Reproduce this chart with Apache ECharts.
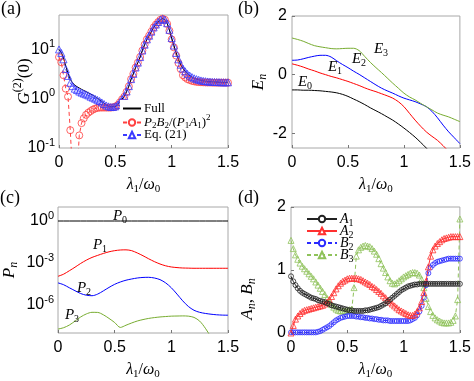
<!DOCTYPE html>
<html><head><meta charset="utf-8">
<script src="https://cdn.jsdelivr.net/npm/echarts@6/dist/echarts.min.js"></script>
<style>html,body{margin:0;padding:0;background:#fff}#c{width:474px;height:381px}</style>
</head><body><div id="c"></div>
<script>
// ---------- x grids ----------
const xs02 = [0,0.02,0.04,0.06,0.08,0.10,0.12,0.14,0.16,0.18,0.20,0.22,0.24,0.26,0.28,0.30,0.32,0.34,0.36,0.38,
  0.40,0.42,0.44,0.46,0.48,0.50,0.52,0.54,0.56,0.58,0.60,0.62,0.64,0.66,0.68,0.70,0.72,0.74,0.76,0.78,
  0.80,0.82,0.84,0.86,0.88,0.90,0.92,0.94,0.96,0.98,1.00,1.02,1.04,1.06,1.08,1.10,1.12,1.14,1.16,1.18,
  1.20,1.22,1.24,1.26,1.28,1.30,1.32,1.34,1.36,1.38,1.40,1.42,1.44,1.46,1.48,1.50];
const xs05 = [0,0.05,0.10,0.15,0.20,0.25,0.30,0.35,0.40,0.45,0.50,0.55,0.60,0.65,0.70,0.75,0.80,0.85,0.90,0.95,
  1.00,1.05,1.10,1.15,1.20,1.25,1.30,1.35,1.40,1.45,1.50];
const xTicks = [0, 0.5, 1, 1.5];

// ---------- panel (a): G2(0) ----------
const gFull = [10,8.7,6.8,4.6,3.3,2.5,2.1,1.9,1.75,1.65,1.55,1.47,1.4,1.32,1.25,1.18,1.1,1.03,0.95,0.88,
  0.81,0.75,0.71,0.69,0.69,0.7,0.75,0.85,0.98,1.12,1.4,1.8,2.5,3.2,4.3,5.4,7,9.5,12.5,16,
  19,23,28,32,36,40,42,40,34,25,17,12,8.5,6.3,4.9,4.1,3.6,3.2,2.95,2.75,
  2.6,2.5,2.42,2.35,2.3,2.27,2.24,2.22,2.2,2.19,2.18,2.17,2.16,2.16,2.15,2.15];
const gRatio = [7,5.5,3.0,1.6,1.1,0.23,0.03,0.008,0.03,0.18,0.32,0.4,0.47,0.52,0.56,0.6,0.63,0.65,0.66,0.66,
  0.66,0.66,0.66,0.66,0.67,0.69,0.74,0.84,0.97,1.1,1.38,1.78,2.5,3.2,4.3,5.4,7,9.5,12.5,16,
  19,23,28,32,36,40,42,40,33,24,16,11,7.5,5.3,4.0,3.0,2.7,2.5,2.4,2.3,
  2.25,2.2,2.18,2.16,2.15,2.14,2.13,2.13,2.12,2.12,2.12,2.12,2.12,2.12,2.12,2.12];
const gEq21 = [10,8.5,6.3,4.0,2.9,2.1,1.8,1.6,1.5,1.4,1.33,1.27,1.22,1.17,1.1,1.05,1.0,0.95,0.9,0.84,
  0.78,0.73,0.7,0.68,0.68,0.7,0.75,0.85,0.98,1.12,1.4,1.8,2.5,3.2,4.3,5.4,7,9.5,12.5,16,
  19,23,28,32,36,40,42,40,34,25,17,12,8.5,6.3,4.9,4.1,3.6,3.2,2.95,2.75,
  2.6,2.5,2.42,2.35,2.3,2.27,2.24,2.22,2.2,2.19,2.18,2.17,2.16,2.16,2.15,2.15];

// ---------- panel (b): E_n ----------
const E0 = [-0.52,-0.52,-0.53,-0.53,-0.54,-0.55,-0.57,-0.59,-0.62,-0.67,-0.74,-0.83,-0.92,-1.02,-1.13,-1.23,-1.33,-1.44,-1.55,-1.68,-1.82,-1.97,-2.13,-2.31,-2.5,-2.7,-2.9,-3.12,-3.35,-3.59,-3.84];
const E1 = [0.37,0.32,0.26,0.19,0.13,0.06,0.0,-0.06,-0.11,-0.17,-0.23,-0.3,-0.37,-0.45,-0.52,-0.58,-0.65,-0.72,-0.8,-0.92,-1.09,-1.32,-1.55,-1.76,-1.95,-2.1,-2.24,-2.42,-2.62,-2.85,-3.1];
const E2 = [0.49,0.5,0.54,0.59,0.63,0.66,0.66,0.6,0.47,0.35,0.24,0.12,0.01,-0.11,-0.23,-0.35,-0.46,-0.55,-0.63,-0.72,-0.8,-0.86,-0.92,-1.0,-1.09,-1.25,-1.47,-1.72,-1.95,-2.15,-2.35];
const E3 = [1.25,1.2,1.14,1.06,0.99,0.95,0.92,0.89,0.88,0.89,0.9,0.9,0.82,0.62,0.42,0.24,0.07,-0.11,-0.29,-0.46,-0.63,-0.76,-0.86,-0.98,-1.09,-1.2,-1.31,-1.38,-1.44,-1.52,-1.6];
const eTicks = [-2, 0, 2];

// ---------- panel (c): P_n ----------
const P0 = [0.999,0.999,0.999,0.999,0.999,0.999,0.999,0.999,0.999,0.999,0.999,0.999,0.999,0.999,0.999,0.999,0.999,0.999,0.999,0.999,0.999,0.999,0.999,0.999,0.999,0.999,0.999,0.999,0.999,0.999,0.999];
const P1 = [1.12e-4,1.6e-4,2.8e-4,5.0e-4,9.3e-4,1.6e-3,2.5e-3,3.5e-3,4.8e-3,6.3e-3,7.6e-3,8.5e-3,8.7e-3,7.6e-3,5.2e-3,3.3e-3,2.0e-3,1.26e-3,8.5e-4,6.3e-4,5.2e-4,4.7e-4,4.4e-4,4.3e-4,4.2e-4,4.2e-4,4.2e-4,4.2e-4,4.2e-4,4.2e-4,4.2e-4];
const P2 = [3.8e-5,2.8e-5,1.7e-5,1.05e-5,6.6e-6,5.0e-6,4.6e-6,6.0e-6,1.02e-5,1.8e-5,3.0e-5,4.4e-5,5.9e-5,7.2e-5,8.5e-5,9.3e-5,9.5e-5,8.5e-5,6.5e-5,3.8e-5,1.7e-5,6.0e-6,2.0e-6,7.9e-7,4.2e-7,3.0e-7,2.5e-7,2.2e-7,2.0e-7,1.9e-7,1.86e-7];
const P3 = [1.9e-8,2.4e-8,3.7e-8,7.1e-8,1.4e-7,2.3e-7,3.0e-7,2.95e-7,2.0e-7,1.1e-7,5.6e-8,2.5e-8,3.6e-8,5.2e-8,7.2e-8,9.1e-8,1.1e-7,1.26e-7,1.4e-7,1.5e-7,1.6e-7,1.63e-7,1.66e-7,1.6e-7,1.3e-7,7.1e-8,2.2e-8,5e-9,1e-9,2.5e-10,1e-10];
const pTickExps = [0, -3, -6];

// ---------- panel (d): A_n, B_n ----------
const A1 = [0.90,0.82,0.76,0.71,0.67,0.64,0.62,0.60,0.58,0.56,
  0.55,0.54,0.52,0.51,0.50,0.49,0.47,0.46,0.44,0.43,
  0.42,0.41,0.40,0.39,0.38,0.37,0.36,0.36,0.35,0.35,
  0.35,0.35,0.35,0.36,0.36,0.37,0.38,0.39,0.40,0.41,
  0.43,0.45,0.47,0.50,0.53,0.56,0.59,0.62,0.65,0.68,
  0.70,0.72,0.74,0.75,0.76,0.77,0.77,0.78,0.78,0.78,
  0.78,0.78,0.78,0.78,0.78,0.78,0.78,0.78,0.78,0.78,
  0.78,0.78,0.78,0.78,0.78,0.78];
const A2 = [0.00,0.12,0.22,0.27,0.31,0.34,0.36,0.37,0.38,0.39,
  0.40,0.41,0.42,0.43,0.44,0.46,0.49,0.53,0.58,0.64,
  0.70,0.75,0.79,0.82,0.84,0.86,0.87,0.87,0.87,0.87,
  0.86,0.85,0.83,0.81,0.79,0.77,0.74,0.72,0.69,0.66,
  0.63,0.59,0.56,0.52,0.49,0.46,0.43,0.40,0.37,0.35,
  0.33,0.31,0.29,0.28,0.28,0.30,0.34,0.40,0.50,0.64,
  0.82,1.05,1.22,1.32,1.38,1.42,1.45,1.48,1.50,1.51,
  1.52,1.53,1.53,1.53,1.53,1.53];
const B2 = [0.01,0.01,0.01,0.01,0.01,0.01,0.01,0.01,0.01,0.01,
  0.01,0.01,0.02,0.03,0.05,0.07,0.09,0.11,0.14,0.17,
  0.20,0.22,0.24,0.25,0.26,0.27,0.27,0.27,0.27,0.26,
  0.26,0.25,0.25,0.24,0.24,0.23,0.23,0.22,0.22,0.21,
  0.21,0.20,0.20,0.20,0.19,0.19,0.19,0.19,0.19,0.19,
  0.19,0.19,0.19,0.20,0.22,0.24,0.28,0.34,0.43,0.56,
  0.76,0.95,1.04,1.08,1.11,1.13,1.14,1.15,1.16,1.17,
  1.18,1.18,1.18,1.18,1.18,1.18];
const B3 = [1.47,1.34,1.24,1.17,1.11,1.06,1.02,0.98,0.94,0.90,
  0.86,0.81,0.76,0.71,0.66,0.61,0.55,0.50,0.45,0.41,
  0.38,0.36,0.35,0.35,0.35,0.36,0.37,0.38,0.72,1.22,
  1.32,1.36,1.38,1.39,1.38,1.37,1.34,1.30,1.25,1.18,
  1.10,1.03,0.96,0.89,0.83,0.79,0.78,0.80,0.83,0.86,
  0.89,0.91,0.93,0.95,0.96,0.96,0.95,0.92,0.85,0.72,
  0.55,0.42,0.34,0.28,0.24,0.21,0.19,0.17,0.16,0.16,
  0.16,0.17,0.20,0.27,0.53,1.81];

// ---------- styling helpers ----------
const SERIF = 'Liberation Serif', SANS = 'Liberation Sans';
function mathRich(fs) {
  const s = Math.round(fs * 0.68);
  return {
    i: {fontFamily: SERIF, fontStyle: 'italic', fontSize: fs, color: '#000'},
    n: {fontFamily: SERIF, fontSize: fs, color: '#000'},
    sub: {fontFamily: SERIF, fontStyle: 'italic', fontSize: s, color: '#000', padding: [Math.round(fs * 0.55), 0, 0, 0]},
    subn: {fontFamily: SERIF, fontSize: s, color: '#000', padding: [Math.round(fs * 0.55), 0, 0, 0]},
    sup: {fontFamily: SERIF, fontSize: s, color: '#000', padding: [0, 0, Math.round(fs * 0.75), 0]}
  };
}
const tickRich = {
  b: {fontFamily: SANS, fontSize: 16, color: '#000'},
  e: {fontFamily: SANS, fontSize: 11, color: '#000', padding: [0, 0, 11, 0]}
};
const pairs = (xs, ys) => xs.map((x, i) => [x, ys[i]]);
const BORDER = '#a8a8a8';

function xAxisCfg(gi) {
  return {
    type: 'value', gridIndex: gi, min: 0, max: 1.5, interval: 0.5,
    axisLine: {show: false, onZero: false}, splitLine: {show: false},
    axisTick: {show: true, inside: true, length: 3, lineStyle: {color: '#777'}},
    axisLabel: {fontFamily: SANS, fontSize: 16, color: '#000', margin: 7,
      formatter: v => xTicks.indexOf(Math.round(v * 100) / 100) >= 0 ? String(v) : ''},
    name: '{i|λ}{subn|1}{n|/}{i|ω}{subn|0}', nameLocation: 'middle', nameGap: 27, nameMoveOverlap: false,
    nameTextStyle: {rich: mathRich(16)}
  };
}
function logLabel(allowed) {
  return v => {
    const l = Math.log10(v), e = Math.round(l);
    if (Math.abs(l - e) > 1e-6) return '';
    if (allowed && allowed.indexOf(e) < 0) return '';
    return '{b|10}{e|' + e + '}';
  };
}

// line (with legend symbol) + hollow marker scatter
function lineWithMarkers(name, gi, xs, ys, color, symbol, size, dashed) {
  return [
    {type: 'line', name: name, xAxisIndex: gi, yAxisIndex: gi, data: pairs(xs, ys), clip: true,
      symbol: 'empty' + symbol[0].toUpperCase() + symbol.slice(1), symbolSize: size, showSymbol: false,
      itemStyle: {color: color},
      lineStyle: {color: color, width: 1, type: dashed ? [4, 3] : 'solid'}, z: 2},
    {type: 'scatter', name: name + '_m', xAxisIndex: gi, yAxisIndex: gi, data: pairs(xs, ys), clip: true,
      symbol: symbol, symbolSize: size,
      itemStyle: {color: 'rgba(255,255,255,0)', borderColor: color, borderWidth: 1}, z: 3}
  ];
}
function plainLine(name, gi, xs, ys, color, smooth) {
  return {type: 'line', name: name, xAxisIndex: gi, yAxisIndex: gi, data: pairs(xs, ys), clip: true,
    smooth: smooth || false, symbol: 'none', showSymbol: false,
    itemStyle: {color: color}, lineStyle: {color: color, width: 1}};
}

const option = {
  animation: false,
  backgroundColor: '#fff',
  grid: [
    {left: 59, top: 15, width: 169, height: 133, show: true, borderColor: BORDER, borderWidth: 1},
    {left: 292, top: 16, width: 172, height: 132, show: true, borderColor: BORDER, borderWidth: 1},
    {left: 58, top: 207, width: 170, height: 130, show: true, borderColor: BORDER, borderWidth: 1},
    {left: 291, top: 207, width: 174, height: 131, show: true, borderColor: BORDER, borderWidth: 1}
  ],
  xAxis: [xAxisCfg(0), xAxisCfg(1), xAxisCfg(2), xAxisCfg(3)],
  yAxis: [
    {type: 'log', logBase: 10, gridIndex: 0, min: 0.1, max: 50,
      axisLine: {show: false, onZero: false}, splitLine: {show: false},
      axisTick: {show: false},
      axisLabel: {formatter: logLabel(null), rich: tickRich, margin: 4},
      name: '{i|G}{sup|(2)}{n|(0)}', nameLocation: 'middle', nameGap: 22, nameMoveOverlap: false,
      nameTextStyle: {rich: mathRich(17)}},
    {type: 'value', gridIndex: 1, min: -2.5, max: 2, interval: 0.5,
      axisLine: {show: false, onZero: false}, splitLine: {show: false},
      axisTick: {show: true, inside: true, length: 3, lineStyle: {color: '#777'}, customValues: eTicks},
      axisLabel: {fontFamily: SANS, fontSize: 16, color: '#000', margin: 5, customValues: eTicks},
      name: '{i|E}{sub|n}', nameLocation: 'middle', nameGap: 23, nameMoveOverlap: false,
      nameTextStyle: {rich: mathRich(17)}},
    {type: 'log', logBase: 10, gridIndex: 2, min: 1e-8, max: 10,
      axisLine: {show: false, onZero: false}, splitLine: {show: false},
      axisTick: {show: false},
      axisLabel: {formatter: logLabel(pTickExps), rich: tickRich, margin: 4},
      name: '{i|P}{sub|n}', nameLocation: 'middle', nameGap: 38, nameMoveOverlap: false,
      nameTextStyle: {rich: mathRich(17)}},
    {type: 'value', gridIndex: 3, min: 0, max: 2, interval: 1,
      axisLine: {show: false, onZero: false}, splitLine: {show: false},
      axisTick: {show: true, inside: true, length: 3, lineStyle: {color: '#777'}},
      axisLabel: {fontFamily: SANS, fontSize: 16, color: '#000', margin: 5},
      name: '{i|A}{sub|n}{n|, }{i|B}{sub|n}', nameLocation: 'middle', nameGap: 33, nameMoveOverlap: false,
      nameTextStyle: {rich: mathRich(17), padding: [0, 58, 0, 0]}}
  ],
  legend: [
    {data: [{name: 'Full', itemStyle: {opacity: 0}}, 'P2B2', 'Eq21'], orient: 'vertical', left: 120, top: 100,
      itemWidth: 18, itemHeight: 8, itemGap: -2, padding: [2, 2, 2, 2], backgroundColor: '#fff',
      formatter: n => n === 'Full' ? '{n|Full}' : n === 'P2B2'
        ? '{i|P}{subn|2}{i|B}{subn|2}{n|/(}{i|P}{subn|1}{i|A}{subn|1}{n|)}{sup|2}'
        : '{n|Eq. (21)}',
      textStyle: {rich: mathRich(13), padding: [0, 0, 0, -2]}},
    {data: ['A1', 'A2', 'B2', 'B3'], orient: 'vertical', left: 306, top: 212,
      itemWidth: 30, itemHeight: 8, itemGap: -4, padding: 0,
      formatter: n => '{i|' + n[0] + '}{subn|' + n[1] + '}',
      textStyle: {rich: mathRich(14), padding: [0, 0, 0, -2]}}
  ],
  series: [].concat(
    // (a)
    [plainLine('Full', 0, xs02, gFull, '#000')],
    lineWithMarkers('P2B2', 0, xs02, gRatio, '#ff4040', 'circle', 7, true),
    lineWithMarkers('Eq21', 0, xs02, gEq21, '#3a3aff', 'triangle', 7, true),
    // (b)
    [plainLine('E0', 1, xs05, E0, '#000', 0.3), plainLine('E1', 1, xs05, E1, '#ff0000', 0.3),
     plainLine('E2', 1, xs05, E2, '#0000ff', 0.3), plainLine('E3', 1, xs05, E3, '#77ac30', 0.3)],
    // (c)
    [plainLine('P0', 2, xs05, P0, '#000'), plainLine('P1', 2, xs05, P1, '#ff0000', 0.3),
     plainLine('P2', 2, xs05, P2, '#0000ff', 0.3), plainLine('P3', 2, xs05, P3, '#77ac30', 0.3)],
    // (d)
    lineWithMarkers('B3', 3, xs02, B3, '#8fc25a', 'triangle', 6, true),
    lineWithMarkers('B2', 3, xs02, B2, '#2a2aff', 'circle', 5, true),
    lineWithMarkers('A2', 3, xs02, A2, '#ff3030', 'triangle', 6, false),
    lineWithMarkers('A1', 3, xs02, A1, '#222222', 'circle', 5, false)
  ),
  graphic: []
};

// panel letters and curve labels (text annotations)
const letters = [['(a)', 1, 0], ['(b)', 238, 0], ['(c)', 0, 189], ['(d)', 238, 189]];
letters.forEach(([t, x, y]) => option.graphic.push({type: 'text', x: x, y: y, z: 100,
  style: {text: t, font: '18px "Liberation Serif"', fill: '#000', align: 'left', verticalAlign: 'top'}}));
const curveLabels = [
  ['E', '0', 305, 82], ['E', '1', 335, 67], ['E', '2', 359, 59], ['E', '3', 381, 49],
  ['P', '0', 120, 216], ['P', '1', 100, 245], ['P', '2', 84, 288], ['P', '3', 72, 315]
];
curveLabels.forEach(([s, k, x, y]) => option.graphic.push({type: 'text', x: x, y: y, z: 100,
  style: {text: '{i|' + s + '}{subn|' + k + '}', rich: mathRich(15), align: 'center', verticalAlign: 'middle'}}));

const chart = echarts.init(document.getElementById('c'), null, {renderer: 'canvas'});
chart.setOption(option);
</script></body></html>
